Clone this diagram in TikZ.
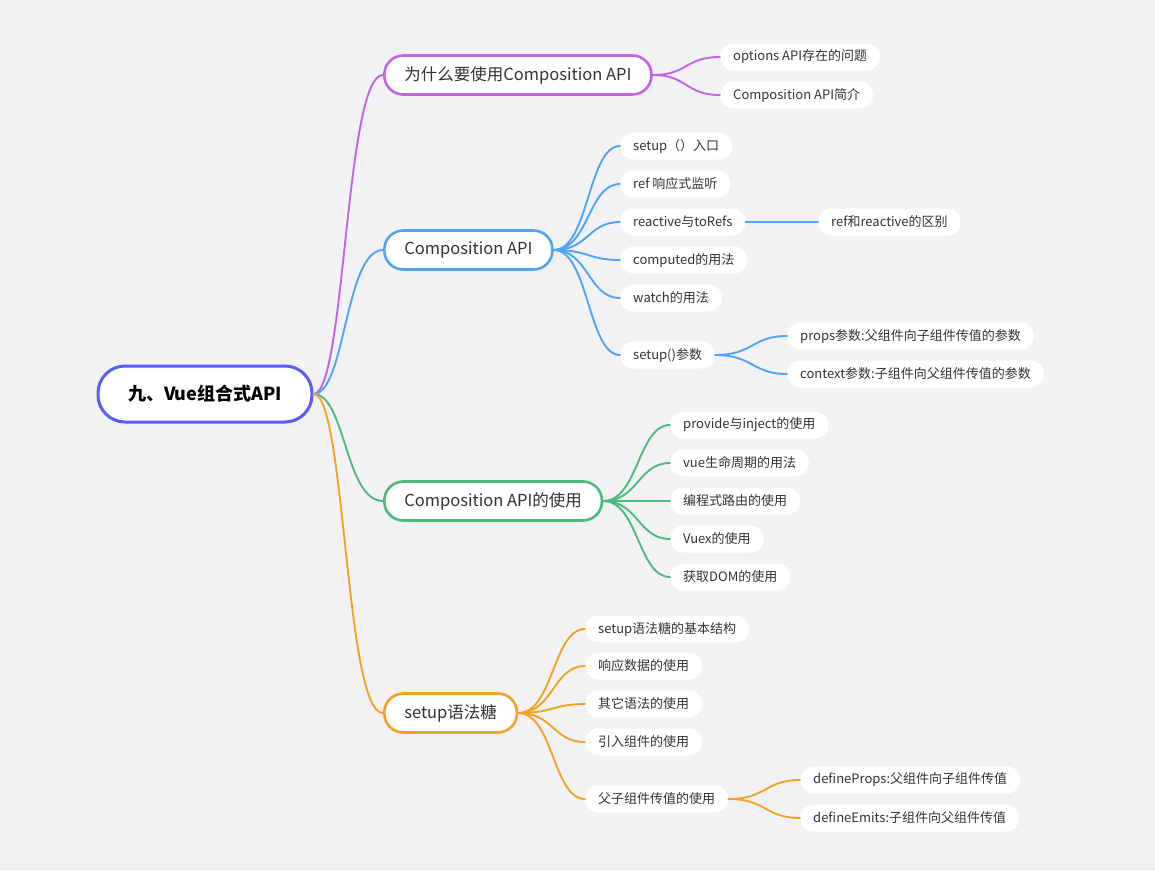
\documentclass[tikz,border=0pt]{standalone}
\usepackage{fontspec}
\setmainfont{Noto Sans CJK SC}
\definecolor{bgc}{HTML}{F2F2F5}
\definecolor{rootc}{HTML}{5B5BF5}
\definecolor{whyc}{HTML}{C463E8}
\definecolor{compc}{HTML}{4EA4F6}
\definecolor{usec}{HTML}{4DBA7D}
\definecolor{sugarc}{HTML}{F6A123}
\definecolor{textc}{HTML}{333333}
\begin{document}
\begin{tikzpicture}[x=1pt, y=-1pt, line cap=round,
  rootbox/.style={draw=rootc, line width=3pt, fill=white, rounded corners=27pt, minimum height=56pt, inner xsep=30pt, font=\fontsize{18}{20}\selectfont\bfseries, text=black},
  topicbox/.style={draw=#1, line width=2.6pt, fill=white, rounded corners=19pt, minimum height=39pt, inner xsep=20pt, font=\fontsize{16.5}{18}\selectfont, text=textc},
  leafbox/.style={fill=white, rounded corners=13pt, minimum height=27pt, inner xsep=13pt, font=\fontsize{13}{15}\selectfont, text=textc, anchor=west},
  link/.style={draw=#1, line width=1.9pt}]

  \fill[bgc] (0,0) rectangle (1155,870);

  \node[rootbox] (root) at (205,394) {九、Vue组合式API};

  \node[topicbox=whyc, anchor=west] (why) at (383,75) {为什么要使用Composition API};
  \node[topicbox=compc, anchor=west] (comp) at (383,250) {Composition API};
  \node[topicbox=usec, anchor=west] (use) at (383,501) {Composition API的使用};
  \node[topicbox=sugarc, anchor=west] (sugar) at (383,713) {setup语法糖};

  \node[leafbox] (whyA) at (720,57) {options API存在的问题};
  \node[leafbox] (whyB) at (720,95) {Composition API简介};

  \node[leafbox] (compSetup) at (620,146) {setup（）入口};
  \node[leafbox] (compRef) at (620,184) {ref 响应式监听};
  \node[leafbox] (compReact) at (620,222) {reactive与toRefs};
  \node[leafbox] (compComputed) at (620,260) {computed的用法};
  \node[leafbox] (compWatch) at (620,298) {watch的用法};
  \node[leafbox] (compArgs) at (620,355) {setup()参数};
  \node[leafbox] (compDiff) at (818,222) {ref和reactive的区别};
  \node[leafbox] (compProps) at (787,336) {props参数:父组件向子组件传值的参数};
  \node[leafbox] (compContext) at (787,374) {context参数:子组件向父组件传值的参数};

  \node[leafbox] (useProvide) at (670,425) {provide与inject的使用};
  \node[leafbox] (useLife) at (670,463) {vue生命周期的用法};
  \node[leafbox] (useRouter) at (670,501) {编程式路由的使用};
  \node[leafbox] (useVuex) at (670,539) {Vuex的使用};
  \node[leafbox] (useDom) at (670,577) {获取DOM的使用};

  \node[leafbox] (sugarBase) at (585,629) {setup语法糖的基本结构};
  \node[leafbox] (sugarData) at (585,666) {响应数据的使用};
  \node[leafbox] (sugarOther) at (585,704) {其它语法的使用};
  \node[leafbox] (sugarImport) at (585,742) {引入组件的使用};
  \node[leafbox] (sugarPass) at (585,799) {父子组件传值的使用};
  \node[leafbox] (sugarProps) at (800,780) {defineProps:父组件向子组件传值};
  \node[leafbox] (sugarEmits) at (800,818) {defineEmits:子组件向父组件传值};

  \draw[link=whyc] (root.east) .. controls +(32,0) and +(-38,0) .. (why.west);
  \draw[link=compc] (root.east) .. controls +(32,0) and +(-38,0) .. (comp.west);
  \draw[link=usec] (root.east) .. controls +(32,0) and +(-38,0) .. (use.west);
  \draw[link=sugarc] (root.east) .. controls +(32,0) and +(-38,0) .. (sugar.west);

  \draw[link=whyc] (why.east) .. controls +(35,0) and +(-35,0) .. (whyA.west);
  \draw[link=whyc] (why.east) .. controls +(35,0) and +(-35,0) .. (whyB.west);

  \draw[link=compc] (comp.east) .. controls +(35,0) and +(-32,0) .. (compSetup.west);
  \draw[link=compc] (comp.east) .. controls +(35,0) and +(-32,0) .. (compRef.west);
  \draw[link=compc] (comp.east) .. controls +(35,0) and +(-32,0) .. (compReact.west);
  \draw[link=compc] (comp.east) .. controls +(35,0) and +(-32,0) .. (compComputed.west);
  \draw[link=compc] (comp.east) .. controls +(35,0) and +(-32,0) .. (compWatch.west);
  \draw[link=compc] (comp.east) .. controls +(35,0) and +(-32,0) .. (compArgs.west);
  \draw[link=compc] (compReact.east) -- (compDiff.west);
  \draw[link=compc] (compArgs.east) .. controls +(38,0) and +(-35,0) .. (compProps.west);
  \draw[link=compc] (compArgs.east) .. controls +(38,0) and +(-35,0) .. (compContext.west);

  \draw[link=usec] (use.east) .. controls +(35,0) and +(-32,0) .. (useProvide.west);
  \draw[link=usec] (use.east) .. controls +(35,0) and +(-32,0) .. (useLife.west);
  \draw[link=usec] (use.east) .. controls +(35,0) and +(-32,0) .. (useRouter.west);
  \draw[link=usec] (use.east) .. controls +(35,0) and +(-32,0) .. (useVuex.west);
  \draw[link=usec] (use.east) .. controls +(35,0) and +(-32,0) .. (useDom.west);

  \draw[link=sugarc] (sugar.east) .. controls +(35,0) and +(-32,0) .. (sugarBase.west);
  \draw[link=sugarc] (sugar.east) .. controls +(35,0) and +(-32,0) .. (sugarData.west);
  \draw[link=sugarc] (sugar.east) .. controls +(35,0) and +(-32,0) .. (sugarOther.west);
  \draw[link=sugarc] (sugar.east) .. controls +(35,0) and +(-32,0) .. (sugarImport.west);
  \draw[link=sugarc] (sugar.east) .. controls +(35,0) and +(-32,0) .. (sugarPass.west);
  \draw[link=sugarc] (sugarPass.east) .. controls +(38,0) and +(-35,0) .. (sugarProps.west);
  \draw[link=sugarc] (sugarPass.east) .. controls +(38,0) and +(-35,0) .. (sugarEmits.west);

\end{tikzpicture}
\end{document}
